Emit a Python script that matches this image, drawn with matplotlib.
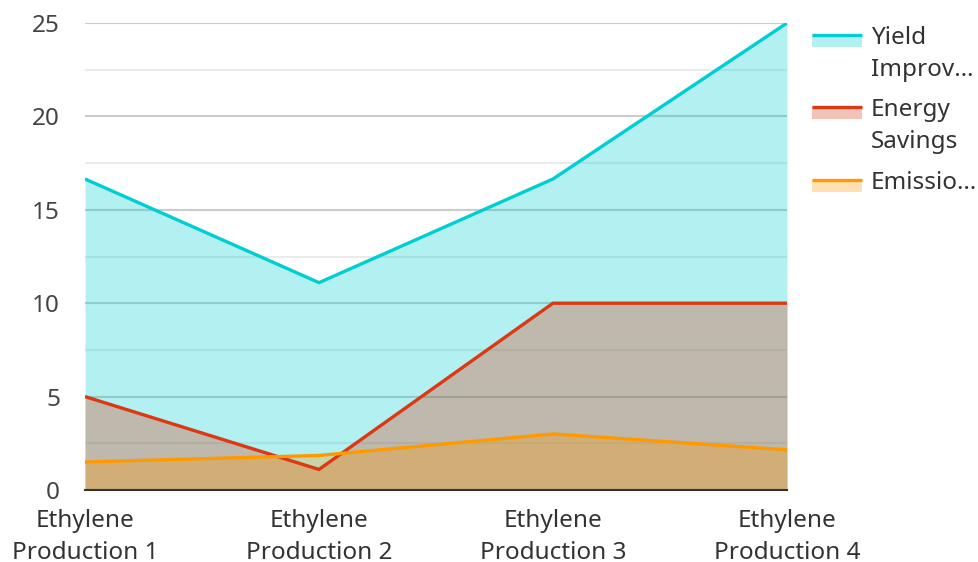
import matplotlib
matplotlib.use("Agg")
import matplotlib.pyplot as plt
from matplotlib.patches import Rectangle
from matplotlib.lines import Line2D

plt.rcParams['font.family'] = ['Noto Sans', 'DejaVu Sans']

# data
categories = ["Ethylene\nProduction 1", "Ethylene\nProduction 2",
              "Ethylene\nProduction 3", "Ethylene\nProduction 4"]
yield_improvement = [16.65, 11.1, 16.65, 25.0]
energy_savings = [5.0, 1.1, 10.0, 10.0]
emission_reduction = [1.5, 1.85, 3.0, 2.15]

series_names = ["Yield\nImprov\u2026", "Energy\nSavings", "Emissio\u2026"]
series_colors = ["#00CED1", "#DC3912", "#FF9900"]
series_values = [yield_improvement, energy_savings, emission_reduction]

W, H = 979, 562
fig = plt.figure(figsize=(W / 100, H / 100), dpi=100)
ax = fig.add_axes([85 / W, 1 - 490 / H, (787 - 85) / W, (490 - 23) / H])

x = list(range(len(categories)))
for vals, col in zip(series_values, series_colors):
    ax.fill_between(x, 0, vals, color=col, alpha=0.3, linewidth=0, zorder=2)
    ax.plot(x, vals, color=col, linewidth=2.4, zorder=3, solid_capstyle='butt')

ax.set_xlim(0, 3)
ax.set_ylim(0, 25)
ax.set_xticks(x)
ax.set_xticklabels(categories, fontsize=17.5, color="#333333", linespacing=1.44)
ax.set_yticks([0, 5, 10, 15, 20, 25])
ax.set_yticks([2.5, 7.5, 12.5, 17.5, 22.5], minor=True)
ax.tick_params(axis='y', which='both', length=0, pad=18, labelsize=17.5, labelcolor="#444444")
ax.tick_params(axis='x', length=0, pad=13.5)
ax.grid(axis='y', which='major', color="#cccccc", linewidth=1.5, zorder=1)
ax.grid(axis='y', which='minor', color="#ebebeb", linewidth=1.5, zorder=1)
for s in ['top', 'right', 'left']:
    ax.spines[s].set_visible(False)
ax.spines['bottom'].set_color("#333333")
ax.spines['bottom'].set_linewidth(1.5)
ax.spines['bottom'].set_zorder(4)


def fpt(px, py):
    return px / W, 1 - py / H


# legend drawn by hand to the right of the plot
legend_rows = [35, 107, 180]
for name, col, y0 in zip(series_names, series_colors, legend_rows):
    x0, y1 = fpt(812, y0 + 12)
    w = 50 / W
    h = 12 / H
    fig.add_artist(Rectangle((x0, y1), w, h, transform=fig.transFigure,
                             facecolor=col, alpha=0.3, linewidth=0))
    lx0, ly = fpt(812, y0)
    fig.add_artist(Line2D([lx0, lx0 + w], [ly, ly], transform=fig.transFigure,
                          color=col, linewidth=2.4, solid_capstyle='butt'))
    tx, ty = fpt(871, y0 - 9)
    fig.text(tx, ty, name, fontsize=17.5, color="#333333", va='top', ha='left',
             linespacing=1.44)

fig.savefig("out.png", dpi=100)
